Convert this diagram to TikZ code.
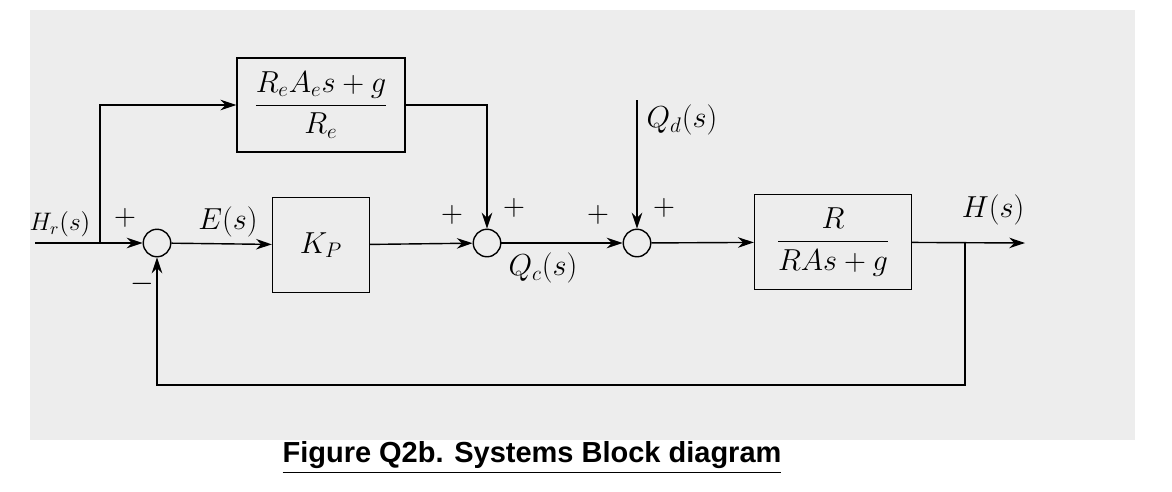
\documentclass[tikz,border=0pt]{standalone}
\usepackage{amsmath}
\usepackage{fontspec}
\newfontfamily\capfont{Liberation Sans}
\usetikzlibrary{arrows.meta}
\begin{document}
\begin{tikzpicture}[x=0.02cm,y=-0.02cm,
  blk/.style={draw,thick,minimum height=1.9cm,inner sep=2pt,font=\fontsize{17}{20}\selectfont},
  sum/.style={draw,thick,circle,minimum size=0.55cm,inner sep=0pt},
  sig/.style={thick,-{Stealth[length=9pt,width=6pt]}},
  lbl/.style={font=\fontsize{17}{20}\selectfont}]
\useasboundingbox (0,0) rectangle (1172,491);
\fill[gray!14] (30,10) rectangle (1135,440);
\coordinate (in) at (35,243);
\coordinate (br) at (100,243);
\node[sum] (s1) at (157,243) {};
\node[blk,minimum width=3.36cm,minimum height=1.88cm] (ff) at (321,105) {$\dfrac{R_eA_es+g}{R_e}$};
\node[blk,minimum width=1.94cm] (kp) at (321,245) {$K_P$};
\node[sum] (s2) at (487,243) {};
\node[sum] (s3) at (637,243) {};
\node[blk,minimum width=3.14cm] (pl) at (833,242) {$\dfrac{R}{RAs+g}$};
\coordinate (out) at (1025,243);
\coordinate (tap) at (965,243);
\coordinate (qd) at (637,100);
\draw[sig] (in) -- (s1);
\draw[sig] (br) |- (ff.west);
\draw[sig] (ff.east) -| (s2);
\draw[sig] (s1) -- (kp);
\draw[sig] (kp) -- (s2);
\draw[sig] (s2) -- (s3);
\draw[sig] (qd) -- (s3);
\draw[sig] (s3) -- (pl);
\draw[sig] (pl) -- (out);
\draw[sig] (tap) -- (965,385) -| (s1);
\node[font=\fontsize{14}{16}\selectfont] at (60,224) {$H_r(s)$};
\node[lbl] at (125,218) {$+$};
\node[lbl] at (142,284) {$-$};
\node[lbl] at (228,222) {$E(s)$};
\node[lbl] at (452,215) {$+$};
\node[lbl] at (514,208) {$+$};
\node[lbl] at (598,215) {$+$};
\node[lbl] at (664,208) {$+$};
\node[lbl] at (543,268) {$Q_c(s)$};
\node[lbl] at (682,120) {$Q_d(s)$};
\node[lbl] at (993,210) {$H(s)$};
\node[font=\capfont\bfseries\fontsize{16.5}{19}\selectfont] at (532,458) {\underline{Figure Q2b. Systems Block diagram}};
\end{tikzpicture}
\end{document}
